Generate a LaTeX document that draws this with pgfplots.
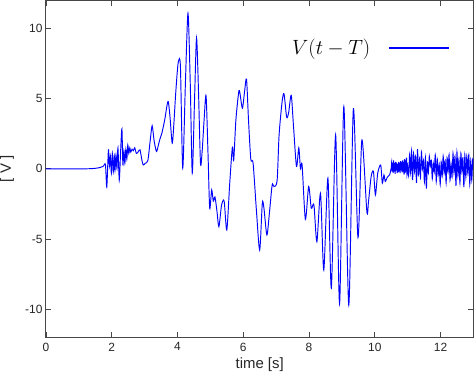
\documentclass[border=0pt]{standalone}
\usepackage{fontspec}
\setmainfont{Liberation Sans}
\usepackage{pgfplots}
\pgfplotsset{compat=1.18}
\usepackage{pgfplotstable}
\pgfplotstableread{
x y
0 0
0.5 0
1.0 0
1.3 0.01
1.5 0.04
1.65 0.1
1.75 0.2
1.81 0.3
1.85 -1.3
1.90 1.35
1.93 0.2
1.96 0.9
1.99 -0.3
2.02 1.1
2.05 -0.2
2.08 0.9
2.10 -0.1
2.13 1.0
2.16 0.0
2.19 1.5
2.23 -0.8
2.27 1.2
2.31 2.85
2.34 0.3
2.37 1.3
2.40 0.4
2.43 1.4
2.46 0.7
2.49 1.7
2.52 1.1
2.55 1.5
2.58 1.2
2.62 1.4
2.66 1.3
2.70 1.5
2.75 1.1
2.80 1.2
2.86 1.36
2.92 0.6
2.96 0.28
3.02 0.4
3.10 0.6
3.17 2.0
3.23 3.07
3.29 2.0
3.36 1.24
3.41 1.6
3.46 2.07
3.52 2.5
3.56 2.9
3.62 3.6
3.68 4.5
3.72 4.8
3.77 3.8
3.84 1.83
3.89 3.2
3.94 5.17
3.99 6.8
4.03 7.67
4.09 7.3
4.16 0.05
4.24 6.0
4.32 11.1
4.39 6.0
4.45 -0.3
4.52 5.0
4.58 9.33
4.64 5.5
4.70 0.4
4.75 1.24
4.81 3.5
4.87 5.2
4.93 1.0
4.98 -2.8
5.04 -1.5
5.09 -2.3
5.14 -2.0
5.20 -3.0
5.26 -4.12
5.34 -2.6
5.42 -2.3
5.50 -4.36
5.59 -1.0
5.67 1.55
5.71 0.6
5.77 3.26
5.82 4.6
5.87 5.58
5.90 5.4
5.975 4.33
6.04 5.5
6.10 6.4
6.16 3.5
6.23 0.7
6.30 0.4
6.40 -2.93
6.50 -5.79
6.58 -2.45
6.63 -2.8
6.72 -4.71
6.80 -3.05
6.88 -1.14
6.935 -1.26
7.03 -0.85
7.09 2.4
7.18 4.75
7.24 5.35
7.32 3.7
7.38 4.0
7.46 5.25
7.53 3.0
7.62 0.17
7.69 1.5
7.74 0.0
7.79 0.28
7.89 -3.6
7.99 -1.26
8.07 -2.81
8.15 -2.57
8.24 -5.19
8.35 -1.74
8.45 -7.21
8.575 -0.67
8.68 -8.5
8.81 2.43
8.93 -9.62
9.06 4.45
9.21 -9.72
9.35 4.3
9.49 -4.9
9.61 2.07
9.76 -3.05
9.81 -2.33
9.89 -0.55
9.96 -0.19
10.02 -1.86
10.09 -0.31
10.18 0.28
10.23 -1.02
10.28 -0.43
10.32 -0.9
10.38 -0.6
10.45 -0.43
10.50 0.05
10.515 0.5
10.53 -0.2
10.545 0.45
10.56 -0.3
10.575 0.6
10.59 -0.2
10.605 0.4
10.62 -0.35
10.635 0.5
10.65 -0.1
10.665 0.45
10.68 -0.3
10.695 0.35
10.71 -0.25
10.725 0.5
10.74 -0.2
10.755 0.45
10.77 -0.3
10.785 0.55
10.80 -0.1
10.815 0.5
10.83 -0.25
10.845 0.6
10.86 -0.2
10.875 0.5
10.89 -0.4
10.905 0.7
10.92 -0.3
10.935 0.6
10.95 -0.2
10.965 0.8
10.98 -0.4
11.00 0.2
11.03 -0.5
11.06 1.0
11.09 -0.3
11.12 1.3
11.15 -0.8
11.18 1.1
11.21 -0.2
11.24 0.9
11.27 -1.0
11.30 1.4
11.33 -0.4
11.36 0.7
11.39 -0.6
11.42 1.2
11.45 0.0
11.48 0.6
11.51 -0.9
11.54 0.8
11.57 -1.4
11.60 0.5
11.63 -0.3
11.66 0.9
11.69 0.2
11.72 0.6
11.75 -0.7
11.78 0.4
11.81 -0.2
11.84 1.0
11.87 -0.9
11.90 0.7
11.93 -0.4
11.96 0.3
11.99 -1.1
12.02 0.5
12.05 -0.5
12.08 0.9
12.11 -0.3
12.14 0.6
12.17 -1.0
12.20 0.8
12.23 -0.2
12.26 1.0
12.29 -0.8
12.32 0.4
12.35 -0.6
12.38 1.1
12.41 -0.3
12.44 0.9
12.47 -1.2
12.50 1.2
12.53 -0.5
12.56 0.7
12.59 -1.0
12.62 1.1
12.65 -0.2
12.68 0.8
12.71 -1.3
12.74 1.0
12.77 -0.6
12.80 0.9
12.83 -0.3
12.86 1.0
12.89 -1.1
12.92 0.6
12.95 -0.8
12.98 0.7
13.0 0.2
}\signal
\begin{document}
\begin{tikzpicture}
\begin{axis}[
  scale only axis,
  width=428bp, height=337bp,
  xmin=0, xmax=13, ymin=-12, ymax=12,
  xtick={0,2,...,12}, ytick={-10,-5,0,5,10},
  tick align=inside, tick pos=both,
  major tick length=5bp,
  axis line style={black!72, line width=1.1bp},
  every tick/.style={black!72, line width=0.8bp},
  /pgf/number format/assume math mode=true,
  tick label style={font=\fontsize{12}{14}\selectfont, text=black!85},
  xticklabel style={yshift=-2bp},
  label style={font=\fontsize{15}{17}\selectfont, text=black!85},
  xlabel={time [s]},
  ylabel={[ V ]},
  xlabel style={at={(axis description cs:0.5,-0.083)}, anchor=center},
  ylabel style={at={(axis description cs:-0.091,0.5)}, anchor=center},
  legend plot pos=right,
  legend style={draw=white, fill=white, at={(0.944,0.861)}, anchor=east,
    font=\fontsize{21}{24}\selectfont, inner sep=1pt},
]
\addplot[color=blue, line width=0.95bp, smooth, tension=0.45,
  legend image code/.code={\path[draw=none] (0bp,0bp) -- (17bp,0bp);
    \color{blue}\path[draw=blue, fill=blue, line width=0.3bp] (17bp,-0.4bp) rectangle (76bp,0.4bp);}]
  table {\signal};
\addlegendentry{$V(t-T)$}
\end{axis}
\pgfresetboundingbox
\path (current axis.south west) ++(-46bp,-35bp) rectangle ([shift={(0.6bp,0.6bp)}]current axis.north east);
\end{tikzpicture}
\end{document}
